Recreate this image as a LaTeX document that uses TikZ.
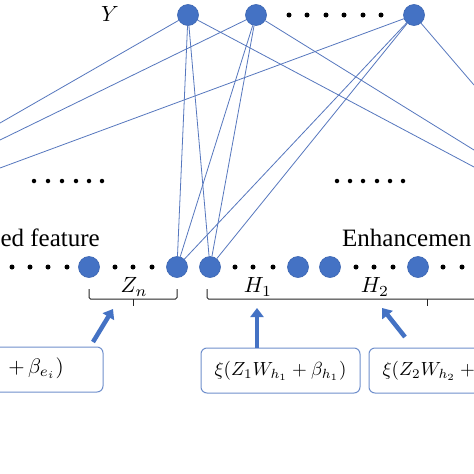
\documentclass[tikz,border=0pt]{standalone}
\usepackage{fontspec}
\setmainfont{Liberation Serif}
\usetikzlibrary{arrows.meta}
\definecolor{nodeblue}{HTML}{4472C4}
\definecolor{nodeedge}{HTML}{3B65B2}
\definecolor{lineblue}{HTML}{5677BE}
\definecolor{boxblue}{HTML}{6F8FCC}
\newcommand{\scmath}[2]{\scalebox{#1}{$#2$}}
\tikzset{
  neuron/.style={circle, fill=nodeblue, draw=nodeedge, line width=0.6pt, minimum size=21pt, inner sep=0pt},
  blackdot/.style={circle, fill=black, minimum size=5pt, inner sep=0pt},
  conn/.style={draw=lineblue, line width=0.8pt},
  bigarrow/.style={draw=nodeblue, line width=4.5pt, -{Triangle[length=9pt,width=13pt]}},
  formbox/.style={draw=boxblue, line width=1pt, rounded corners=6pt},
  bracketline/.style={draw=black!85, line width=1pt, rounded corners=1.5pt},
  bigtext/.style={font=\fontsize{25}{30}\selectfont, inner sep=0pt},
  mathlabel/.style={inner sep=0pt},
}
\begin{document}
\begin{tikzpicture}[x=1pt,y=-1pt]
\useasboundingbox (0,0) rectangle (474,474);
\clip (0,0) rectangle (474,474);
\fill[white] (0,0) rectangle (474,474);

% output layer
\node[mathlabel] (ylab) at (110,14) {\scmath{2.2}{Y}};
\node[neuron] (y1) at (188,15) {};
\node[neuron] (y2) at (256,15) {};
\node[neuron] (y3) at (414,15) {};
\foreach \x [count=\i] in {289,307,326,344,363,381}
  \node[blackdot] (td\i) at (\x,15) {};

% middle dots
\foreach \x [count=\i] in {34,48,62,76,89,102}
  \node[blackdot, minimum size=4.5pt] (ml\i) at (\x,181) {};
\foreach \x [count=\i] in {337,350,363,377,390,403}
  \node[blackdot, minimum size=4.5pt] (mr\i) at (\x,181) {};

% bottom row
\foreach \x [count=\i] in {12,30,48,67,115,133,152,235,253,273,356,374,393,443,462}
  \node[blackdot] (bd\i) at (\x,267) {};
\node[neuron] (z1) at (89,267) {};
\node[neuron] (zn) at (177,267) {};
\node[neuron] (h1) at (210,267) {};
\node[neuron] (h2) at (298,267) {};
\node[neuron] (h3) at (330,267) {};
\node[neuron] (h4) at (418,267) {};

% labels
\node[bigtext, anchor=base east] (mapped) at (100,246) {ed feature};
\node[bigtext, anchor=base west] (enh) at (342,246) {Enhancemen};

% off-picture ends of connectors
\coordinate (l1) at (0,123);
\coordinate (l2) at (0,140);
\coordinate (l3) at (0,168);
\coordinate (r1) at (474,167);
\coordinate (r2) at (474,150);
\coordinate (r3) at (474,85);

% connectors
\foreach \y/\l/\r in {y1/l1/r1, y2/l2/r2, y3/l3/r3} {
  \draw[conn] (\y) -- (\l);
  \draw[conn] (\y) -- (\r);
  \draw[conn] (\y) -- (zn);
  \draw[conn] (\y) -- (h1);
}

% brackets
\draw[bracketline] (89,289) -- (89,299) -- (177,299) -- (177,289);
\draw[bracketline] (133,299) -- (133,306);
\draw[bracketline] (207,289) -- (207,299) -- (480,299);
\draw[bracketline] (427,299) -- (427,306);
\node[mathlabel] (znlab) at (134,287) {\scmath{2.2}{Z_n}};
\node[mathlabel] (h1lab) at (258,287) {\scmath{2.2}{H_1}};
\node[mathlabel] (h2lab) at (375,287) {\scmath{2.2}{H_2}};

% formula boxes
\draw[formbox] (-100,347) rectangle (103,392);
\node[mathlabel, anchor=east] (f0) at (64,368) {\scmath{2.1}{+\,\beta_{e_i})}};
\node[formbox, minimum width=159pt, minimum height=45pt, inner sep=0pt] (f1) at (280.5,370.5)
  {\scmath{1.9}{\xi(Z_1W_{h_1}+\beta_{h_1})}};
\node[formbox, minimum width=159pt, minimum height=45pt, inner sep=0pt] (f2) at (448.5,370.5)
  {\scmath{1.9}{\xi(Z_2W_{h_2}+\beta_{h_2})}};

% arrows
\coordinate (a0s) at (93,342);
\coordinate (a0e) at (113,309);
\coordinate (a1e) at (257,308);
\coordinate (a2s) at (405,337);
\coordinate (a2e) at (382,308);
\draw[bigarrow] (a0s) -- (a0e);
\draw[bigarrow] (f1.north -| a1e) -- (a1e);
\draw[bigarrow] (a2s) -- (a2e);
\end{tikzpicture}
\end{document}
